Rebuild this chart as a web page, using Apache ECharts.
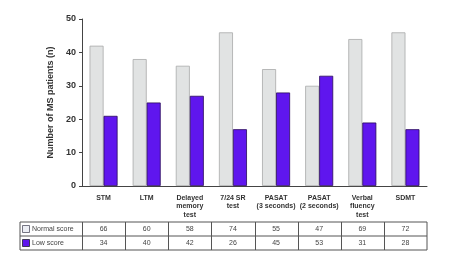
<!doctype html>
<html>
<head>
<meta charset="utf-8">
<title></title>
<script src="https://cdn.jsdelivr.net/npm/echarts@6/dist/echarts.min.js"></script>
<style>
  html, body { margin: 0; padding: 0; background: #fff; }
  #chart { width: 474px; height: 266px; }
</style>
</head>
<body>
<div id="chart"></div>
<script>
  // categories (axis labels)
  var categories = ['STM', 'LTM', 'Delayed\nmemory\ntest', '7/24 SR\ntest', 'PASAT\n(3 seconds)',
    'PASAT\n(2 seconds)', 'Verbal\nfluency\ntest', 'SDMT'];
  // bar heights, number of patients
  var normalCount = [42, 38, 36, 46, 35, 30, 44, 46];
  var lowCount = [21, 25, 27, 17, 28, 33, 19, 17];
  // table rows, percent
  var normalPct = [66, 60, 58, 74, 55, 47, 69, 72];
  var lowPct = [34, 40, 42, 26, 45, 53, 31, 28];
  var yTicks = [0, 10, 20, 30, 40, 50];

  var grayFill = '#e1e3e3', purpleFill = '#5f16ee';

  var myChart = echarts.init(document.getElementById('chart'));
  myChart.setOption({
    animation: false,
    grid: { left: 82, right: 47, top: 19, bottom: 80 },
    xAxis: {
      type: 'category',
      data: categories,
      axisLine: { lineStyle: { color: '#444', width: 1 } },
      axisTick: { show: false },
      axisLabel: {
        interval: 0, margin: 8, fontSize: 7, fontWeight: 'bold', color: '#333',
        lineHeight: 8.3, fontFamily: 'Liberation Sans'
      }
    },
    yAxis: {
      type: 'value',
      min: yTicks[0], max: yTicks[yTicks.length - 1], interval: 10,
      name: 'Number of MS patients (n)',
      nameLocation: 'middle', nameGap: 25,
      nameTextStyle: { fontSize: 9, fontWeight: 'bold', color: '#333', fontFamily: 'Liberation Sans' },
      axisLine: { show: true, lineStyle: { color: '#444' } },
      axisTick: { show: true, length: 3, lineStyle: { color: '#444' } },
      axisLabel: { fontSize: 9, fontWeight: 'bold', color: '#333', margin: 6, fontFamily: 'Liberation Sans' },
      splitLine: { show: false }
    },
    series: [{
      name: 'Normal score',
      type: 'bar',
      data: normalCount,
      barWidth: 14,
      barGap: '0%',
      itemStyle: { color: grayFill, borderColor: '#a8aaaa', borderWidth: 0.8 }
    }, {
      name: 'Low score',
      type: 'bar',
      data: lowCount,
      barWidth: 14,
      itemStyle: { color: purpleFill, borderColor: '#2a0a5a', borderWidth: 0.8 }
    }]
  });

  // table under the chart, columns lined up with the categories
  function drawTable() {
    var c0 = myChart.convertToPixel({ xAxisIndex: 0 }, 0);
    var c1 = myChart.convertToPixel({ xAxisIndex: 0 }, 1);
    var band = c1 - c0;
    var x0 = c0 - band / 2;
    var xEnd = x0 + band * categories.length;
    var tl = 20, top = 222, rowH = 14;
    var els = [];
    var line = { stroke: '#555', lineWidth: 1 };
    els.push({ type: 'rect', shape: { x: tl, y: top, width: xEnd - tl, height: rowH * 2 },
      style: { fill: 'none', stroke: '#555', lineWidth: 1 } });
    els.push({ type: 'line', shape: { x1: tl, y1: top + rowH, x2: xEnd, y2: top + rowH }, style: line });
    for (var i = 0; i <= categories.length - 1; i++) {
      var bx = Math.round(x0 + band * i) + 0.5;
      els.push({ type: 'line', shape: { x1: bx, y1: top, x2: bx, y2: top + rowH * 2 }, style: line });
    }
    var rows = [
      { label: 'Normal score', vals: normalPct, fill: '#eceef4', stroke: '#556' },
      { label: 'Low score', vals: lowPct, fill: purpleFill, stroke: '#223' }
    ];
    rows.forEach(function (r, ri) {
      var cy = top + rowH * ri + rowH / 2;
      els.push({ type: 'rect', shape: { x: tl + 2.5, y: cy - 3.5, width: 7, height: 7 },
        style: { fill: r.fill, stroke: r.stroke, lineWidth: 0.8 } });
      els.push({ type: 'text', x: tl + 12, y: cy,
        style: { text: r.label, fontSize: 7, fill: '#444', verticalAlign: 'middle', fontFamily: 'Liberation Sans' } });
      r.vals.forEach(function (v, i) {
        els.push({ type: 'text', x: c0 + band * i, y: cy,
          style: { text: String(v), fontSize: 7, fill: '#444', align: 'center', verticalAlign: 'middle',
            fontFamily: 'Liberation Sans' } });
      });
    });
    myChart.setOption({ graphic: els });
  }
  drawTable();
</script>
</body>
</html>
